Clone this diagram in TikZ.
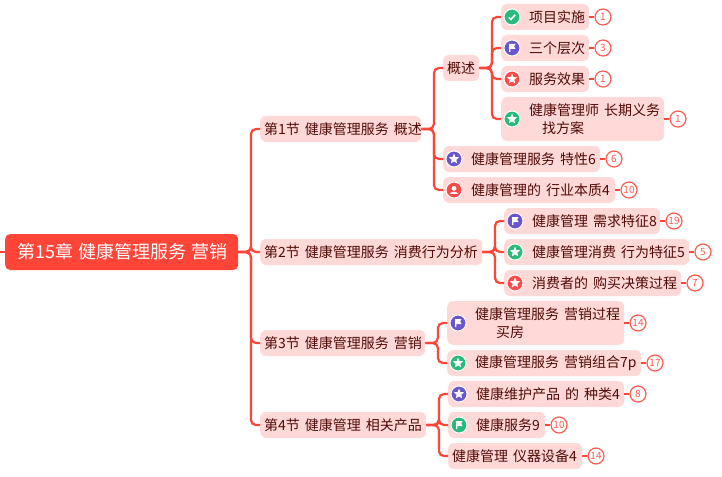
\documentclass[tikz,border=0pt]{standalone}
\usepackage{fontspec}
\setmainfont{Noto Sans CJK SC}
\usetikzlibrary{shapes.geometric}
\definecolor{linkred}{HTML}{FF4438}
\definecolor{boxpink}{HTML}{FFD9D7}
\definecolor{inkred}{HTML}{520A06}
\definecolor{numred}{HTML}{FF5A50}
\definecolor{iconpurple}{HTML}{6A55CC}
\definecolor{icongreen}{HTML}{28BB7C}
\definecolor{iconred}{HTML}{FB4B4B}
\tikzset{
rootbox/.style={anchor=west,fill=linkred,text=white,rounded corners=5,inner xsep=4,inner ysep=0,minimum height=36,align=left,font=\fontsize{18}{22}\selectfont},
leafbox/.style={anchor=west,fill=boxpink,text=inkred,rounded corners=6,inner xsep=4,inner ysep=0,minimum height=26,align=left,font=\fontsize{14}{18}\selectfont},
numbadge/.style={circle,draw=numred,fill=white,line width=1.2,text=numred,minimum size=16,inner sep=0,font=\fontsize{10}{10}\selectfont},
link/.style={draw=linkred,line width=2.2,rounded corners=5},
icondisc/.style={circle,draw=white,line width=1,fill=#1,minimum size=16,inner sep=0},
pics/staricon/.style={code={
\node[icondisc=#1] {};
\node[star,star points=5,star point ratio=2.3,fill=white,minimum size=11,inner sep=0] {};}},
pics/flagicon/.style={code={
\node[icondisc=#1] {};
\fill[white] (-3,4)--(-3,-4)--(3.5,-4)--(2.2,-1.5)--(3.5,1)--(-1.6,1)--(-1.6,4)--cycle;}},
pics/checkicon/.style={code={
\node[icondisc=#1] {};
\draw[white,line width=1.6] (-3.2,0.2)--(-1,2.4)--(3.2,-2.2);}},
pics/usericon/.style={code={
\node[icondisc=#1] {};
\fill[white] (0,-1.6) circle (2.4);
\fill[white] (-4,4.4)..controls (-4,0.8) and (4,0.8)..(4,4.4)--cycle;}},
}
\newcommand{\tx}[1]{\mbox{\spaceskip=5pt\relax #1}}
\newcommand{\gaptx}[1]{\mbox{\spaceskip=5pt\relax\hspace*{24pt}#1}}
\begin{document}
\begin{tikzpicture}[x=1pt,y=-1pt]
\useasboundingbox (0,0) rectangle (722,476);
\coordinate (stub) at (0,252);
% main column
\node[rootbox,text width=225] (root) at (5,252) {\tx{\hspace*{8pt}第15章 健康管理服务 营销}};
\node[leafbox,text width=153] (sect1) at (260,129) {\tx{第1节 健康管理服务 概述}};
\node[leafbox,text width=214] (sect2) at (260,252) {\tx{第2节 健康管理服务 消费行为分析}};
\node[leafbox,text width=157] (sect3) at (260,343) {\tx{第3节 健康管理服务 营销}};
\node[leafbox,text width=158] (sect4) at (260,425) {\tx{第4节 健康管理 相关产品}};
\node[leafbox,text width=28] (intro) at (443,68) {\tx{概述}};
% leaves
\node[leafbox,text width=80] (leaf1) at (501,17) {\gaptx{项目实施}};
\node[leafbox,text width=80] (leaf2) at (501,48) {\gaptx{三个层次}};
\node[leafbox,text width=80] (leaf3) at (501,79) {\gaptx{服务效果}};
\node[leafbox,text width=155,minimum height=44] (leaf4) at (501,119) {\gaptx{健康管理师 长期义务}\\\tx{\hspace*{37pt}找方案}};
\node[leafbox,text width=149] (leaf5) at (443,159) {\gaptx{健康管理服务 特性6}};
\node[leafbox,text width=164] (leaf6) at (443,190) {\gaptx{健康管理的 行业本质4}};
\node[leafbox,text width=148] (leaf7) at (504,221) {\gaptx{健康管理 需求特征8}};
\node[leafbox,text width=177] (leaf8) at (504,252) {\gaptx{健康管理消费 行为特征5}};
\node[leafbox,text width=169] (leaf9) at (504,283) {\gaptx{消费者的 购买决策过程}};
\node[leafbox,text width=169,minimum height=44] (leaf10) at (447,323) {\gaptx{健康管理服务 营销过程}\\\tx{\hspace*{45pt}买房}};
\node[leafbox,text width=186] (leaf11) at (447,363) {\gaptx{健康管理服务 营销组合7p}};
\node[leafbox,text width=168] (leaf12) at (448,394) {\gaptx{健康维护产品 的 种类4}};
\node[leafbox,text width=89] (leaf13) at (448,425) {\gaptx{健康服务9}};
\node[leafbox,text width=126] (leaf14) at (448,456) {\tx{健康管理 仪器设备4}};
% number badges
\node[numbadge] (num1) at (603,17) {1};
\node[numbadge] (num2) at (603,48) {3};
\node[numbadge] (num3) at (603,79) {1};
\node[numbadge] (num4) at (678,119) {1};
\node[numbadge] (num5) at (614,159) {6};
\node[numbadge] (num6) at (629,190) {10};
\node[numbadge] (num7) at (674,221) {19};
\node[numbadge] (num8) at (703,252) {5};
\node[numbadge] (num9) at (695,283) {7};
\node[numbadge] (num10) at (638,323) {14};
\node[numbadge] (num11) at (655,363) {17};
\node[numbadge] (num12) at (638,394) {8};
\node[numbadge] (num13) at (559,425) {10};
\node[numbadge] (num14) at (596,456) {14};
% icons
\pic at (512,17) {checkicon=icongreen};
\pic at (512,48) {flagicon=iconpurple};
\pic at (512,79) {staricon=iconred};
\pic at (512,119) {staricon=icongreen};
\pic at (454,159) {staricon=iconpurple};
\pic at (454,190) {usericon=iconred};
\pic at (515,221) {flagicon=iconpurple};
\pic at (515,252) {staricon=icongreen};
\pic at (515,283) {staricon=iconred};
\pic at (458,323) {flagicon=iconpurple};
\pic at (458,363) {staricon=icongreen};
\pic at (459,394) {staricon=iconpurple};
\pic at (459,425) {flagicon=icongreen};
% connectors
\draw[link] (stub)--(root.west);
\foreach \p/\c in {root/sect1,root/sect2,root/sect3,root/sect4,
sect1/intro,sect1/leaf5,sect1/leaf6,intro/leaf1,intro/leaf2,intro/leaf3,intro/leaf4,
sect2/leaf7,sect2/leaf8,sect2/leaf9,sect3/leaf10,sect3/leaf11,
sect4/leaf12,sect4/leaf13,sect4/leaf14}
\draw[link] (\p.east)--++(12.5,0)|-(\c.west);
\foreach \i in {1,...,14} \draw[link] (leaf\i.east)--(num\i.west);
\end{tikzpicture}
\end{document}
